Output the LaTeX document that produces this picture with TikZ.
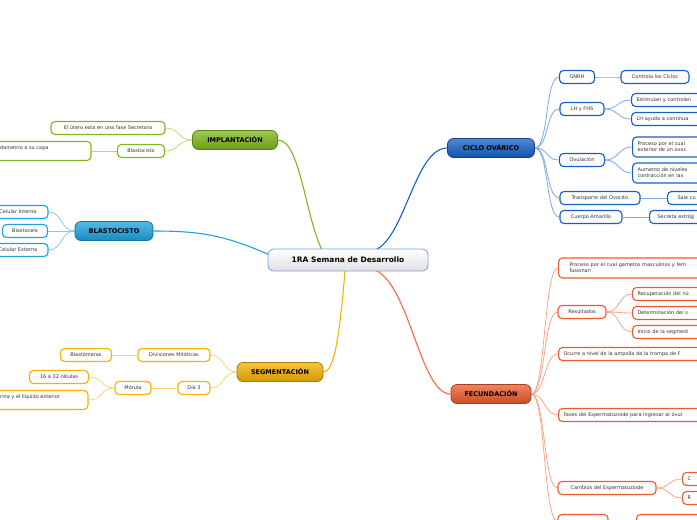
\documentclass[tikz,border=0pt]{standalone}
\usepackage{fontspec}
\setmainfont{DejaVu Sans}
\usetikzlibrary{backgrounds}
\definecolor{cblue}{HTML}{1560C8}
\definecolor{corange}{HTML}{EE5A2C}
\definecolor{cgreen}{HTML}{7DB81A}
\definecolor{ccyan}{HTML}{1BA3E0}
\definecolor{cyellow}{HTML}{F5B200}
\tikzset{
 bx/.style={draw=#1, rounded corners=4pt, line width=1.1pt, fill=white, font=\fontsize{5}{6}\selectfont, text=black!80, minimum height=13pt, inner xsep=5pt, inner ysep=2pt},
 wide/.style={anchor=west, align=left, text width=#1},
 main/.style={draw=#1!70!black, rounded corners=6pt, line width=0.8pt, top color=#1!75!white, bottom color=#1!85!black, font=\bfseries\fontsize{6.5}{8}\selectfont, text=black, minimum height=19pt},
 ln/.style={draw=#1!55!white, line width=0.8pt},
 mln/.style={draw=#1, line width=1.1pt}
}
\newcommand{\conn}[3]{\draw[ln=#1] (#2.east) .. controls +(14,0) and +(-14,0) .. (#3.west);}
\begin{document}
\begin{tikzpicture}[x=1pt,y=-1pt]
\useasboundingbox (0,0) rectangle (697,520);
\clip (0,0) rectangle (697,520);
% center
\node[draw=cblue!60, rounded corners=6pt, line width=0.8pt, top color=white, bottom color=black!12, font=\bfseries\fontsize{7.5}{9}\selectfont, minimum width=160pt, minimum height=22pt] (c) at (348,260) {1RA Semana de Desarrollo};
% main
\node[main=cblue, minimum width=87pt] (ciclo) at (491,148) {CICLO OVÁRICO};
\node[main=corange, minimum width=80pt] (fec) at (491,394) {FECUNDACIÓN};
\node[main=cgreen, minimum width=85pt] (impl) at (235,140) {IMPLANTACIÓN};
\node[main=ccyan, minimum width=78pt] (blast) at (114,231) {BLASTOCISTO};
\node[main=cyellow, minimum width=86pt] (seg) at (280,372) {SEGMENTACIÓN};
% ciclo children
\node[bx=cblue, minimum width=35pt] (gnrh) at (577,77) {GNRH};
\node[bx=cblue, minimum width=68pt] (ctrl) at (655,77) {Controla los Ciclos};
\node[bx=cblue, minimum width=44pt] (lh) at (582,109) {LH y FHS};
\node[bx=cblue, wide=80pt] (est) at (631,100) {Estimulan y controlan};
\node[bx=cblue, wide=80pt] (lha) at (631,119) {LH ayuda a continua};
\node[bx=cblue, minimum width=45pt] (ovu) at (582,160) {Ovulación};
\node[bx=cblue, wide=80pt, minimum height=20pt] (proc) at (632,147) {Proceso por el cual\\exterior de un ovoc};
\node[bx=cblue, wide=80pt, minimum height=20pt] (aum) at (632,173) {Aumento de niveles\\contracción en las};
\node[bx=cblue, minimum width=80pt] (trans) at (600,198) {Transporte del Ovocito};
\node[bx=cblue, wide=60pt] (sale) at (667,198) {\hspace*{5pt}Sale cu};
\node[bx=cblue, minimum width=62pt] (cuer) at (591,217) {Cuerpo Amarillo};
\node[bx=cblue, wide=60pt] (secr) at (649,217) {\hspace*{3pt}Secreta estróg};
% fec children
\node[bx=corange, wide=160pt, minimum height=20pt] (f1) at (558,268) {\hspace*{6pt}Proceso por el cual gametos masculinos y fem\\\hspace*{6pt}fusionan};
\node[bx=corange, minimum width=48pt] (res) at (582,312) {Resultados};
\node[bx=corange, wide=80pt] (r1) at (632,294) {Recuperación del nú};
\node[bx=corange, wide=80pt] (r2) at (632,313) {Determinación del s};
\node[bx=corange, wide=80pt] (r3) at (632,332) {Inicio de la segment};
\node[bx=corange, wide=160pt] (f2) at (558,354) {Ocurre a nivel de la ampolla de la trompa de F};
\node[bx=corange, wide=160pt] (f3) at (558,415) {Fases del Espermatozoide para ingresar al óvul};
\node[bx=corange, minimum width=98pt] (camb) at (607,488) {Cambios del Espermatozoide};
\node[bx=corange, wide=30pt] (ca) at (682,479) {C};
\node[bx=corange, wide=30pt] (cb) at (682,498) {R};
\node[bx=corange, minimum width=50pt] (f4) at (583,521) {};
\node[bx=corange, wide=80pt] (f5) at (636,521) {};
% impl children
\node[bx=cgreen, minimum width=114pt] (ut) at (108,128) {El útero esta en una fase Secretora};
\node[bx=cgreen, minimum width=47pt] (bl) at (141,151) {Blastocisto};
\node[bx=cgreen, minimum width=120pt, minimum height=19pt] (endo) at (31,151) {};
\node[font=\fontsize{5}{6}\selectfont, text=black!80, anchor=west, inner sep=0pt] at (0,148) {dometrio a su capa};
% blast children
\node[bx=ccyan, minimum width=80pt] (b1) at (8,212) {\hspace*{20pt}Celular Interna};
\node[bx=ccyan, minimum width=45pt] (b2) at (25,231) {Blastocele};
\node[bx=ccyan, minimum width=80pt] (b3) at (8,250) {\hspace*{20pt}Celular Externa};
% seg children
\node[bx=cyellow, minimum width=72pt] (div) at (174,355) {Divisiones Mitóticas};
\node[bx=cyellow, minimum width=51pt] (blm) at (86,355) {Blastómeras};
\node[bx=cyellow, minimum width=32pt] (dia) at (194,388) {Día 3};
\node[bx=cyellow, minimum width=36pt] (mor) at (133,388) {Mórula};
\node[bx=cyellow, minimum width=59pt] (cel) at (59,377) {16 a 32 células};
\node[bx=cyellow, minimum width=150pt, minimum height=19pt] (liq) at (13,400) {};
\node[font=\fontsize{5}{6}\selectfont, text=black!80, anchor=west, inner sep=0pt] at (0,397) {rina y el líquido exterior};
\begin{scope}[on background layer]
\draw[mln=cblue] (375,250) .. controls (405,238) and (415,148) .. (ciclo.west);
\draw[mln=corange!90] (375,270) .. controls (410,285) and (420,394) .. (fec.west);
\draw[mln=cgreen] (322,250) .. controls (305,215) and (300,140) .. (impl.east);
\draw[mln=ccyan] (272,256) .. controls (225,235) and (200,231) .. (blast.east);
\draw[mln=cyellow] (345,271) .. controls (340,330) and (335,372) .. (seg.east);
\foreach \a in {gnrh,lh,ovu,trans,cuer}{\draw[ln=cblue] (ciclo.east) .. controls +(14,0) and +(-14,0) .. (\a.west);}
\conn{cblue}{gnrh}{ctrl}\conn{cblue}{lh}{est}\conn{cblue}{lh}{lha}\conn{cblue}{ovu}{proc}\conn{cblue}{ovu}{aum}\conn{cblue}{trans}{sale}\conn{cblue}{cuer}{secr}
\foreach \a in {f1,res,f2,f3,camb,f4}{\draw[ln=corange] (fec.east) .. controls +(14,0) and +(-14,0) .. (\a.west);}
\conn{corange}{res}{r1}\conn{corange}{res}{r2}\conn{corange}{res}{r3}\conn{corange}{camb}{ca}\conn{corange}{camb}{cb}\conn{corange}{f4}{f5}
\foreach \a in {ut,bl}{\draw[ln=cgreen] (impl.west) .. controls +(-14,0) and +(14,0) .. (\a.east);}
\draw[ln=cgreen] (bl.west) -- (endo.east);
\foreach \a in {b1,b2,b3}{\draw[ln=ccyan] (blast.west) .. controls +(-14,0) and +(14,0) .. (\a.east);}
\foreach \a in {div,dia}{\draw[ln=cyellow] (seg.west) .. controls +(-14,0) and +(14,0) .. (\a.east);}
\draw[ln=cyellow] (div.west) -- (blm.east);
\draw[ln=cyellow] (dia.west) -- (mor.east);
\foreach \a in {cel,liq}{\draw[ln=cyellow] (mor.west) .. controls +(-14,0) and +(14,0) .. (\a.east);}
\end{scope}
\end{tikzpicture}
\end{document}
